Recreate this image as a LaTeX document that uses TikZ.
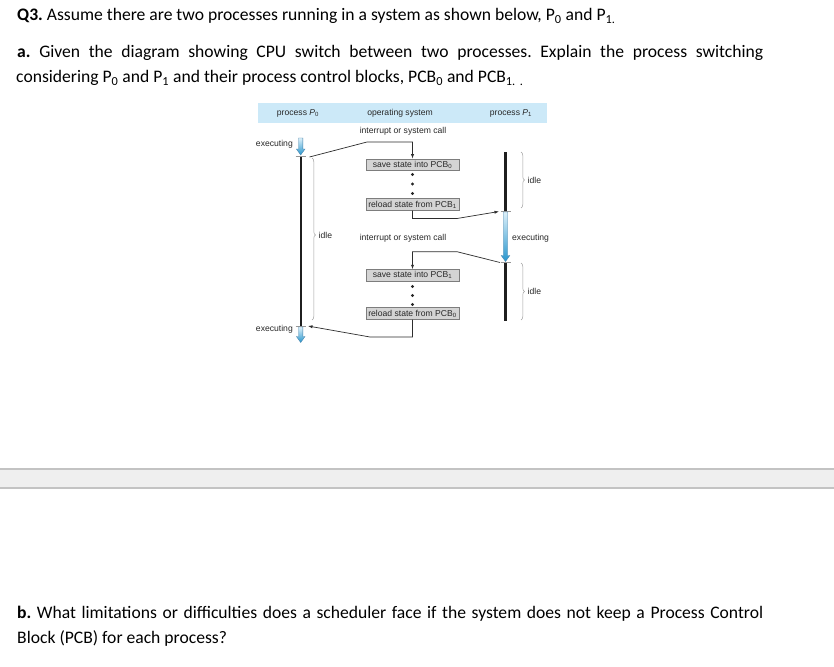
\documentclass[tikz,border=0pt]{standalone}
\usepackage{fontspec}
\setmainfont{Carlito}
\newfontfamily\diagfont{Liberation Sans}
\usetikzlibrary{arrows.meta,decorations.pathreplacing}
\definecolor{bandblue}{RGB}{204,233,248}
\definecolor{boxfill}{RGB}{212,212,212}
\definecolor{boxline}{RGB}{125,125,125}
\definecolor{conncol}{RGB}{45,45,45}
\definecolor{txt}{RGB}{40,40,40}
\definecolor{tickcol}{RGB}{150,150,150}
\definecolor{bracecol}{RGB}{160,160,160}
\definecolor{arrtop}{RGB}{220,240,250}
\definecolor{arrbot}{RGB}{40,150,205}
\definecolor{arredge}{RGB}{70,130,170}
\definecolor{sepfill}{RGB}{239,239,239}
\definecolor{sepline}{RGB}{195,195,195}
\newcommand\bluearr[3]{%
  \shade[top color=arrtop, bottom color=arrbot, draw=arredge, line width=0.35pt]
    (#1-2.2,#2) -- (#1+2.2,#2) -- (#1+2.2,#3-6) -- (#1+4.3,#3-6) -- (#1,#3)
    -- (#1-4.3,#3-6) -- (#1-2.2,#3-6) -- cycle;}
\frenchspacing
\begin{document}
\begin{tikzpicture}[x=1pt,y=-1pt,
  qtext/.style={font=\fontsize{17.6}{20}\selectfont, inner sep=0, anchor=base west},
  lbl/.style={font=\diagfont\fontsize{8.6}{10}\selectfont, text=txt, inner sep=0},
  pcbbox/.style={lbl, draw=boxline, fill=boxfill, line width=0.6pt, minimum width=93pt, minimum height=11.5pt},
  conn/.style={draw=conncol, line width=0.7pt, -{Latex[length=4.5pt,width=3.2pt]}},
  timeline/.style={draw=black!88, line width=2.2pt},
  tickline/.style={draw=tickcol, line width=0.6pt},
  bracepath/.style={draw=bracecol, line width=0.5pt, decorate, decoration={brace, amplitude=3.5pt}},
  dotnode/.style={circle, fill=black!85, inner sep=0, minimum size=3.2pt}]
\useasboundingbox (0,0) rectangle (834,666);
\fill[white] (0,0) rectangle (834,666);

% question text
\node[qtext] (q1) at (17,21) {\textbf{Q3.} Assume there are two processes running in a system as shown below, P\textsubscript{0} and P\textsubscript{1.}};
\node[qtext] (qa1) at (17,57.5) {\makebox[746pt][s]{\textbf{a.} Given the diagram showing CPU switch between two processes. Explain the process switching}};
\node[qtext] (qa2) at (16,83) {considering P\textsubscript{0} and P\textsubscript{1} and their process control blocks, PCB\textsubscript{0} and PCB\textsubscript{1.} \textsubscript{.}};

% header band
\fill[bandblue] (258,103) rectangle (547,123);
\node[lbl] (hp0) at (298,113) {process \textit{P}\textsubscript{0}};
\node[lbl] (hos) at (400,113) {operating system};
\node[lbl] (hp1) at (511,113) {process \textit{P}\textsubscript{1}};

% labels
\node[lbl] (int1) at (403,131) {interrupt or system call};
\node[lbl] (int2) at (403,238.3) {interrupt or system call};
\node[lbl, anchor=east] (ex0a) at (293,144) {executing};
\node[lbl, anchor=east] (ex0b) at (293,329.5) {executing};
\node[lbl, anchor=west] (ex1) at (512,238.3) {executing};
\node[lbl, anchor=west] (idle0) at (318.5,235) {idle};
\node[lbl, anchor=west] (idle1a) at (527.5,180) {idle};
\node[lbl, anchor=west] (idle1b) at (527.5,291.5) {idle};

% boxes and dots
\node[pcbbox] (sv0) at (412.5,164.7) {save state into PCB\textsubscript{0}};
\node[dotnode] (d1) at (412.5,174.5) {};
\node[dotnode] (d2) at (412.5,184) {};
\node[dotnode] (d3) at (412.5,193.5) {};
\node[pcbbox] (rl1) at (412.5,204.5) {reload state from PCB\textsubscript{1}};
\node[pcbbox] (sv1) at (412.5,275.3) {save state into PCB\textsubscript{1}};
\node[dotnode] (d4) at (412.5,286.5) {};
\node[dotnode] (d5) at (412.5,295.5) {};
\node[dotnode] (d6) at (412.5,304.5) {};
\node[pcbbox] (rl0) at (412.5,313.5) {reload state from PCB\textsubscript{0}};

% process P0 timeline
\bluearr{300.7}{138}{155}
\draw[tickline] (295.7,156.5) -- (305.7,156.5);
\draw[timeline] (300.7,157) -- (300.7,325.5);
\draw[tickline] (295.7,326) -- (305.7,326);
\bluearr{300.7}{327}{342.5}
\draw[bracepath, decoration={aspect=0.475}] (312,158) -- (312,320);

% process P1 timeline
\draw[timeline] (505.5,152) -- (505.5,210.5);
\draw[tickline] (500.5,211) -- (510.5,211);
\bluearr{505.5}{212}{261.5}
\draw[tickline] (500.5,262.5) -- (510.5,262.5);
\draw[timeline] (505.5,263) -- (505.5,321);
\draw[bracepath] (521,152) -- (521,208);
\draw[bracepath] (521,263) -- (521,320);

% connector points
\coordinate (c1s) at (309.5,157);
\coordinate (c1a) at (367,142);
\coordinate (c2a) at (457,218.5);
\coordinate (c2e) at (499,211.5);
\coordinate (c3s) at (500,262.5);
\coordinate (c3a) at (457,251.7);
\coordinate (c4a) at (370,337);
\coordinate (c4e) at (308,326);

\draw[conn] (c1s) -- (c1a) -| (sv0.north);
\draw[conn] (rl1.south) |- (c2a) -- (c2e);
\draw[conn] (c3s) -- (c3a) -| (sv1.north);
\draw[conn] (rl0.south) |- (c4a) -- (c4e);

% separator
\fill[sepfill] (0,469) rectangle (834,488);
\draw[sepline, line width=1.1pt] (0,469) -- (834,469);
\draw[sepline, line width=1.1pt] (0,488) -- (834,488);

% part b
\node[qtext] (qb1) at (17,618.5) {\makebox[746pt][s]{\textbf{b.} What limitations or difficulties does a scheduler face if the system does not keep a Process Control}};
\node[qtext] (qb2) at (17,643.5) {Block (PCB) for each process?};
\end{tikzpicture}
\end{document}
